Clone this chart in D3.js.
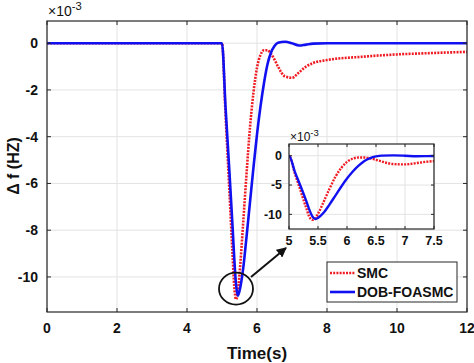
<!DOCTYPE html>
<html>
<head>
<meta charset="utf-8">
<script src="https://cdn.jsdelivr.net/npm/d3@7"></script>
<style>
  body { margin: 0; background: #fff; }
  text { font-family: "Liberation Sans", Arial, sans-serif; }
</style>
</head>
<body>
<svg id="chart" width="474" height="363"></svg>
<script>
// values are in units of 1e-3 Hz
var times  = [0, 5, 5.1, 5.2, 5.3, 5.35, 5.4, 5.45, 5.5, 5.6, 5.7, 5.8, 5.9, 6.0, 6.1, 6.2, 6.3, 6.4, 6.5, 6.6, 6.8, 7.0, 7.2, 7.4, 7.6, 8, 9, 10, 11, 12];
var smcVals = [0, 0, -3.0, -6.0, -9.0, -10.4, -10.95, -10.7, -9.9, -7.8, -5.6, -3.6, -2.1, -1.05, -0.5, -0.3, -0.3, -0.45, -0.7, -1.0, -1.42, -1.48, -1.25, -1.0, -0.85, -0.72, -0.58, -0.48, -0.42, -0.37];
var dobVals = [0, 0, -2.7, -5.2, -7.8, -9.2, -10.3, -10.8, -10.6, -9.7, -8.3, -6.8, -5.3, -3.9, -2.7, -1.7, -0.9, -0.4, -0.12, 0.02, 0.06, 0.0, -0.1, -0.06, -0.02, 0, 0, 0, 0, 0];

var xTicks = [0, 2, 4, 6, 8, 10, 12];
var yTicks = [0, -2, -4, -6, -8, -10];
var insetXTicks = [5, 5.5, 6, 6.5, 7, 7.5];
var insetYTicks = [0, -5, -10];
var seriesNames = ["SMC", "DOB-FOASMC"];

var svg = d3.select("#chart");
var red = "#f01c24", blue = "#1010f0", axisCol = "#262626", gridCol = "#e3e3e3";

var smcData = times.map(function(t, i){ return [t, smcVals[i]]; });
var dobData = times.map(function(t, i){ return [t, dobVals[i]]; });

function drawPanel(g, x, y, xt, yt, opts) {
  var x0 = x.range()[0], x1 = x.range()[1];
  var y0 = y.range()[0], y1 = y.range()[1];
  // grid
  g.selectAll(".gx").data(xt).enter().append("line")
    .attr("x1", function(d){ return x(d); }).attr("x2", function(d){ return x(d); })
    .attr("y1", y0).attr("y2", y1)
    .attr("stroke", gridCol).attr("stroke-width", 1);
  g.selectAll(".gy").data(yt).enter().append("line")
    .attr("y1", function(d){ return y(d); }).attr("y2", function(d){ return y(d); })
    .attr("x1", x0).attr("x2", x1)
    .attr("stroke", gridCol).attr("stroke-width", 1);

  var clipId = opts.id + "-clip";
  g.append("clipPath").attr("id", clipId).append("rect")
    .attr("x", x0).attr("y", y1).attr("width", x1 - x0).attr("height", y0 - y1);

  var line = d3.line()
    .x(function(d){ return x(d[0]); })
    .y(function(d){ return y(d[1]); })
    .curve(d3.curveMonotoneX);

  var lines = g.append("g").attr("clip-path", "url(#" + clipId + ")");
  lines.append("path").datum(smcData)
    .attr("d", line).attr("fill", "none")
    .attr("stroke", red).attr("stroke-width", opts.lw)
    .attr("stroke-dasharray", "2,1.2");
  lines.append("path").datum(dobData)
    .attr("d", line).attr("fill", "none")
    .attr("stroke", blue).attr("stroke-width", opts.lw);

  // ticks (inside, on all four sides)
  var tl = opts.tick;
  xt.forEach(function(d){
    g.append("line").attr("x1", x(d)).attr("x2", x(d)).attr("y1", y0).attr("y2", y0 - tl).attr("stroke", axisCol);
    g.append("line").attr("x1", x(d)).attr("x2", x(d)).attr("y1", y1).attr("y2", y1 + tl).attr("stroke", axisCol);
  });
  yt.forEach(function(d){
    g.append("line").attr("y1", y(d)).attr("y2", y(d)).attr("x1", x0).attr("x2", x0 + tl).attr("stroke", axisCol);
    g.append("line").attr("y1", y(d)).attr("y2", y(d)).attr("x1", x1).attr("x2", x1 - tl).attr("stroke", axisCol);
  });
  g.append("rect").attr("x", x0).attr("y", y1).attr("width", x1 - x0).attr("height", y0 - y1)
    .attr("fill", "none").attr("stroke", axisCol).attr("stroke-width", 1.2);

  // tick labels
  g.selectAll(".xl").data(xt).enter().append("text")
    .attr("x", function(d){ return x(d); }).attr("y", y0 + opts.xlOff)
    .attr("text-anchor", "middle").attr("font-weight", "bold").attr("font-size", opts.fs)
    .attr("fill", "#111").text(function(d){ return d; });
  g.selectAll(".yl").data(yt).enter().append("text")
    .attr("x", x0 - opts.ylOff).attr("y", function(d){ return y(d); }).attr("dy", "0.35em")
    .attr("text-anchor", "end").attr("font-weight", "bold").attr("font-size", opts.fs)
    .attr("fill", "#111").text(function(d){ return d; });

  // exponent
  var ex = g.append("text").attr("x", x0 + 1).attr("y", y1 - opts.expOff)
    .attr("font-size", opts.expFs).attr("fill", "#111");
  ex.append("tspan").text("\u00d710");
  ex.append("tspan").attr("dy", -opts.expFs * 0.45).attr("font-size", opts.expFs * 0.8).text("-3");
}

// main axes
var x = d3.scaleLinear().domain([0, 12]).range([47, 467]);
var y = d3.scaleLinear().domain([-11.5, 0.95]).range([312, 21]);
var main = svg.append("g");
drawPanel(main, x, y, xTicks, yTicks, {id: "main", lw: 2.6, tick: 4, fs: 14, xlOff: 21, ylOff: 9, expOff: 5, expFs: 14});

svg.append("text").attr("x", 257).attr("y", 359)
  .attr("text-anchor", "middle").attr("font-weight", "bold").attr("font-size", 17)
  .attr("fill", "#111").text("Time(s)");
svg.append("text").attr("transform", "translate(19,166) rotate(-90)")
  .attr("text-anchor", "middle").attr("font-weight", "bold").attr("font-size", 16)
  .attr("fill", "#111").text("\u0394 f (HZ)");

// ellipse + arrow
svg.append("ellipse").attr("cx", x(5.4)).attr("cy", y(-10.5))
  .attr("rx", 17).attr("ry", 16).attr("fill", "none").attr("stroke", "#111").attr("stroke-width", 1.8);
svg.append("defs").append("marker").attr("id", "ah")
  .attr("viewBox", "0 0 10 10").attr("refX", 9).attr("refY", 5)
  .attr("markerWidth", 5).attr("markerHeight", 5).attr("orient", "auto")
  .append("path").attr("d", "M0,0 L10,5 L0,10 z").attr("fill", "#111");
svg.append("line").attr("x1", 251).attr("y1", 277).attr("x2", 286).attr("y2", 248)
  .attr("stroke", "#111").attr("stroke-width", 2).attr("marker-end", "url(#ah)");

// inset
var xi = d3.scaleLinear().domain([5, 7.5]).range([289, 434]);
var yi = d3.scaleLinear().domain([-12.5, 2]).range([229, 144]);
var inset = svg.append("g");
inset.append("rect").attr("x", 289).attr("y", 144).attr("width", 145).attr("height", 85).attr("fill", "#fff");
drawPanel(inset, xi, yi, insetXTicks, insetYTicks, {id: "inset", lw: 2.4, tick: 3, fs: 12.5, xlOff: 16, ylOff: 7, expOff: 3, expFs: 12});

// legend
var leg = svg.append("g");
leg.append("rect").attr("x", 327).attr("y", 262).attr("width", 130).attr("height", 40)
  .attr("fill", "#fff").attr("stroke", axisCol).attr("stroke-width", 1);
seriesNames.forEach(function(n, i){
  var ly = 273 + i * 19;
  leg.append("line").attr("x1", 330).attr("x2", 355).attr("y1", ly).attr("y2", ly)
    .attr("stroke", i === 0 ? red : blue).attr("stroke-width", 2.6)
    .attr("stroke-dasharray", i === 0 ? "2,1.2" : null);
  leg.append("text").attr("x", 357).attr("y", ly).attr("dy", "0.35em")
    .attr("font-weight", "bold").attr("font-size", 14).attr("fill", "#111").text(n);
});
</script>
</body>
</html>
